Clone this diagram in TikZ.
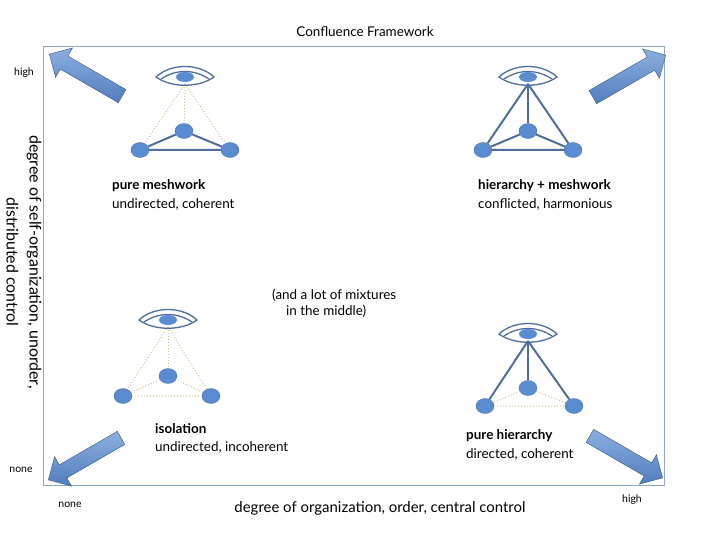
\documentclass[tikz,border=0pt]{standalone}
\usepackage{fontspec}
\setmainfont{Lato}
\usetikzlibrary{shapes.arrows,shapes.geometric}
\definecolor{ln}{RGB}{79,110,160}
\definecolor{nd}{RGB}{90,140,210}
\definecolor{fr}{RGB}{140,170,200}
\definecolor{dt}{RGB}{200,195,140}
\begin{document}
\begin{tikzpicture}[x=1bp,y=-1bp,font=\fontsize{13.5}{16}\selectfont,
 dot/.style={ellipse,minimum width=18bp,minimum height=15bp,inner sep=0,fill=nd,draw=nd!80!black,line width=0.4bp},
 sol/.style={ln,line width=2bp},
 dtd/.style={dt,line width=1bp,dotted},
 bigarrow/.style={single arrow,minimum height=84bp,minimum width=34bp,single arrow head extend=4bp,inner sep=3bp,shading=axis,top color=nd!70!white,bottom color=nd!90!black,draw=nd!60!black,line width=0.4bp},
 lbl/.style={anchor=west,inner sep=0}]
\useasboundingbox (0,0) rectangle (720,540);
\newcommand{\eyeshape}[2]{%
 \draw[ln,line width=1.3bp] (#1-29,#2) .. controls (#1-14,#2-14) and (#1+14,#2-14) .. (#1+29,#2) .. controls (#1+14,#2+11) and (#1-14,#2+11) .. cycle;
 \draw[ln,line width=1.3bp] (#1-24,#2+2) .. controls (#1-9,#2-8) and (#1+9,#2-8) .. (#1+24,#2+2);
 \fill[nd] (#1,#2) ellipse (9bp and 5bp);}
\node[draw=fr,line width=1bp,minimum width=620bp,minimum height=438bp,inner sep=0] (frame) at (354,266) {};
\node (title) at (365,32) {Confluence Framework};
\node[bigarrow,rotate=150] (a1) at (89,77) {};
\node[bigarrow,rotate=30] (a2) at (626,78) {};
\node[bigarrow,rotate=-150] (a3) at (88,457) {};
\node[bigarrow,rotate=-30] (a4) at (623,455) {};
\node[font=\fontsize{10.5}{12}\selectfont] (h1) at (24,73) {high};
\node[font=\fontsize{10.5}{12}\selectfont] (n1) at (21,470) {none};
\node[font=\fontsize{10.5}{12}\selectfont] (n2) at (70,505) {none};
\node[font=\fontsize{10.5}{12}\selectfont] (h2) at (632,500) {high};
\node[rotate=-90,align=center,font=\fontsize{16}{23}\selectfont] (ylab) at (24,262) {degree of self-organization, unorder,\\distributed control};
\node[font=\fontsize{15}{17}\selectfont] (xlab) at (380,508) {degree of organization, order, central control};
% top-left
\coordinate (e1) at (185,84);
\node[dot] (t1) at (184,131) {}; \node[dot] (l1) at (140,150) {}; \node[dot] (r1) at (230,150) {};
\draw[dtd] (e1) -- (t1); \draw[dtd] (e1) -- (l1); \draw[dtd] (e1) -- (r1);
\draw[sol] (t1) -- (l1) -- (r1) -- (t1);
\eyeshape{185}{77}
% top-right
\coordinate (e2) at (528,84);
\node[dot] (t2) at (528,131) {}; \node[dot] (l2) at (483,150) {}; \node[dot] (r2) at (573,150) {};
\draw[sol] (e2) -- (t2); \draw[sol] (e2) -- (l2); \draw[sol] (e2) -- (r2);
\draw[sol] (t2) -- (l2) -- (r2) -- (t2);
\eyeshape{528}{77}
% bottom-left
\coordinate (e3) at (168,327);
\node[dot] (t3) at (168,376) {}; \node[dot] (l3) at (123,396) {}; \node[dot] (r3) at (211,396) {};
\draw[dtd] (e3) -- (t3); \draw[dtd] (e3) -- (l3); \draw[dtd] (e3) -- (r3);
\draw[dtd] (t3) -- (l3) -- (r3) -- (t3);
\eyeshape{168}{320}
% bottom-right
\coordinate (e4) at (528,341);
\node[dot] (t4) at (528,388) {}; \node[dot] (l4) at (485,406) {}; \node[dot] (r4) at (574,406) {};
\draw[sol] (e4) -- (t4); \draw[sol] (e4) -- (l4); \draw[sol] (e4) -- (r4);
\draw[dtd] (t4) -- (l4) -- (r4) -- (t4);
\eyeshape{528}{334}
% labels
\node[lbl,font=\fontsize{13.5}{16}\selectfont\bfseries] (m1) at (112,186) {pure meshwork};
\node[lbl] (m2) at (112,204) {undirected, coherent};
\node[lbl,font=\fontsize{13.5}{16}\selectfont\bfseries] (hm1) at (478,186) {hierarchy + meshwork};
\node[lbl] (hm2) at (478,204) {conflicted, harmonious};
\node[lbl,font=\fontsize{13.5}{16}\selectfont\bfseries] (i1) at (155,429) {isolation};
\node[lbl] (i2) at (155,447) {undirected, incoherent};
\node[lbl,font=\fontsize{13.5}{16}\selectfont\bfseries] (p1) at (466,436) {pure hierarchy};
\node[lbl] (p2) at (466,454) {directed, coherent};
\node[lbl,align=left] (mx) at (272,303) {(and a lot of mixtures\\\hspace{14bp}in the middle)};
\end{tikzpicture}
\end{document}
